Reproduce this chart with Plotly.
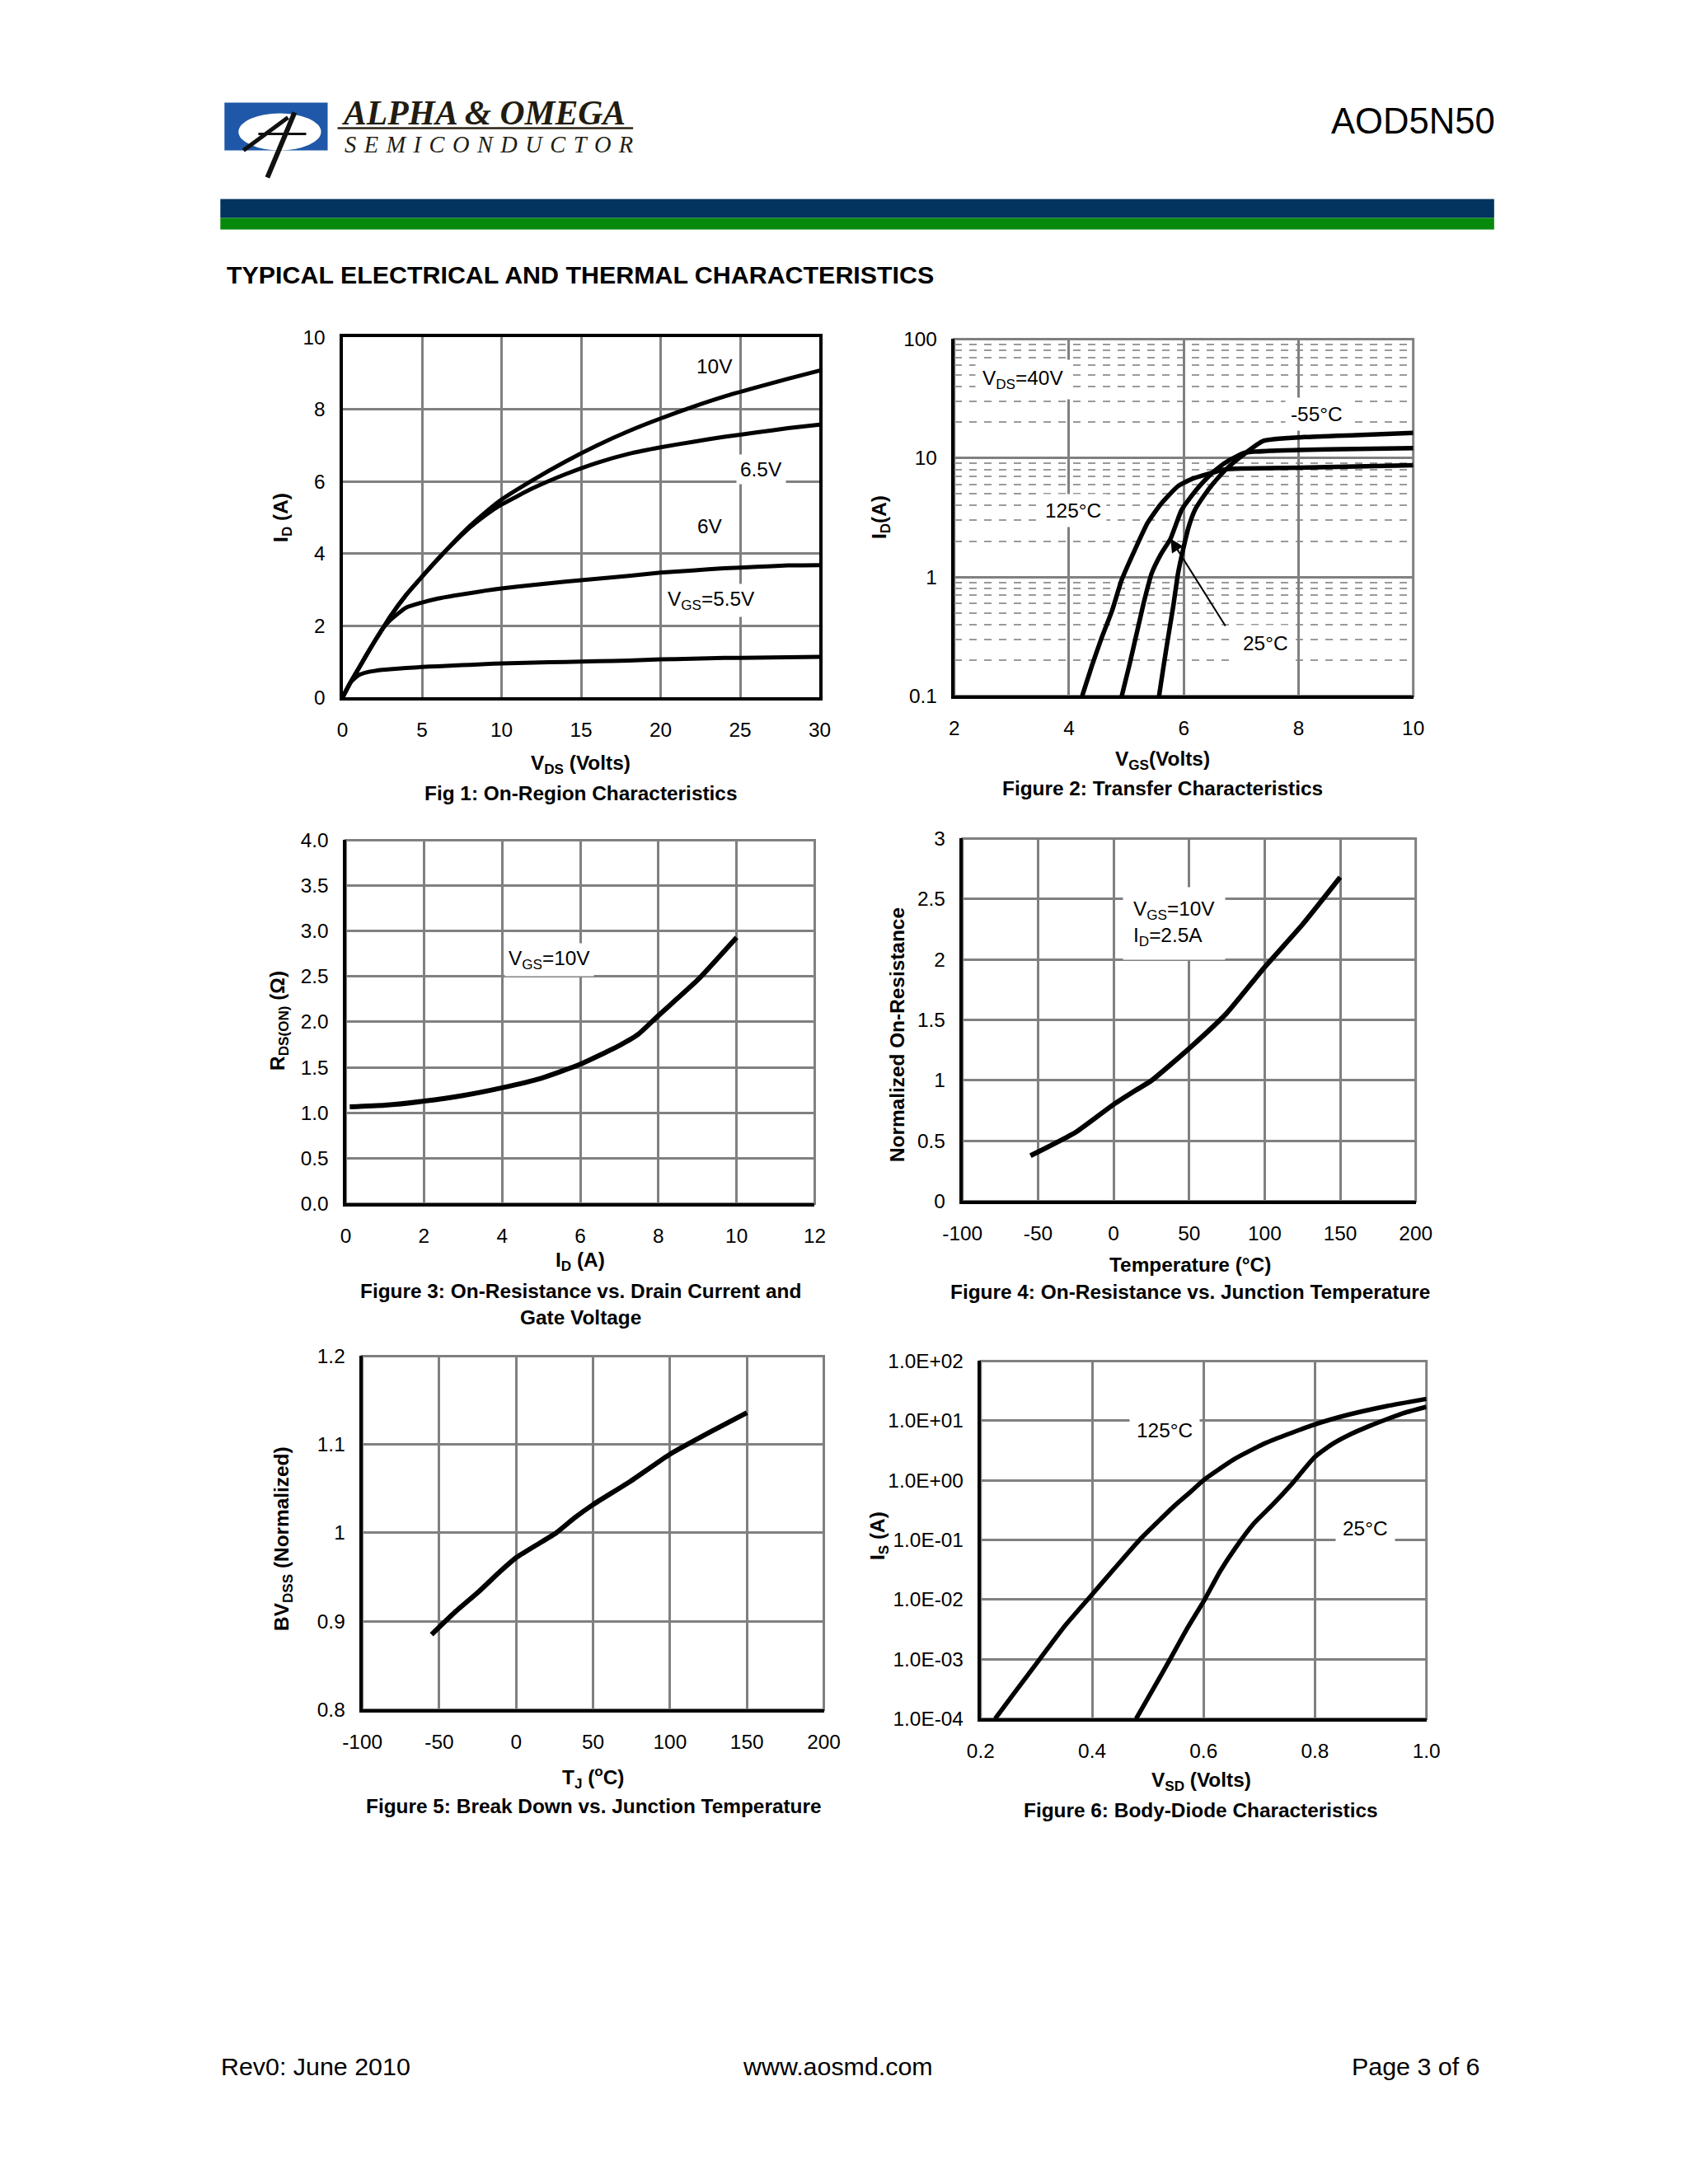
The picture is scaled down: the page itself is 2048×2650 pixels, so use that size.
import numpy as np
import plotly.graph_objects as go

W, H = 2048, 2650
FONT = "Liberation Sans, Arial, sans-serif"
GRID = "#808080"

# ---------------- data ----------------
# Fig 1: On-region characteristics
vds = [0, 0.5, 1, 1.5, 2, 2.5, 3, 4, 5, 6, 7, 8, 9, 10, 12, 14, 16, 18, 20, 22, 24, 26, 28, 30]
id_10v = [0, 0.42, 0.8, 1.18, 1.55, 1.9, 2.25, 2.85, 3.36, 3.85, 4.32, 4.76, 5.15, 5.5, 6.05, 6.55, 7.0, 7.4, 7.75, 8.07, 8.36, 8.61, 8.85, 9.08]
id_6v5 = [0, 0.42, 0.8, 1.18, 1.55, 1.9, 2.25, 2.85, 3.36, 3.85, 4.3, 4.72, 5.07, 5.36, 5.82, 6.2, 6.52, 6.77, 6.95, 7.1, 7.24, 7.36, 7.48, 7.58]
id_6v = [0, 0.42, 0.8, 1.18, 1.55, 1.9, 2.15, 2.5, 2.64, 2.75, 2.83, 2.9, 2.97, 3.03, 3.13, 3.22, 3.3, 3.38, 3.47, 3.53, 3.59, 3.63, 3.67, 3.68]
id_5v5 = [0, 0.42, 0.62, 0.7, 0.74, 0.77, 0.79, 0.82, 0.85, 0.87, 0.89, 0.91, 0.93, 0.95, 0.97, 0.99, 1.01, 1.03, 1.06, 1.08, 1.1, 1.11, 1.12, 1.13]

# Fig 2: Transfer characteristics
vgs_125 = [4.23, 4.4, 4.56, 4.75, 4.92, 5.15, 5.37, 5.6, 5.9, 6.15, 6.42, 6.71, 7.0, 8.0, 9.0, 10.0]
id_125 = [0.1, 0.18, 0.3, 0.52, 0.95, 1.7, 2.85, 4.1, 5.8, 6.7, 7.35, 8.0, 8.15, 8.3, 8.5, 8.7]
vgs_25 = [4.92, 5.05, 5.18, 5.3, 5.44, 5.6, 5.77, 5.96, 6.12, 6.29, 6.55, 6.81, 7.07, 7.5, 8.0, 9.0, 10.0]
id_25 = [0.1, 0.18, 0.336, 0.6, 1.07, 1.55, 2.1, 3.64, 4.7, 5.93, 7.9, 9.7, 11.1, 11.5, 11.7, 11.9, 12.1]
vgs_m55 = [5.57, 5.65, 5.73, 5.82, 5.9, 6.0, 6.09, 6.2, 6.35, 6.5, 6.74, 7.0, 7.39, 8.1, 9.0, 10.0]
id_m55 = [0.1, 0.18, 0.316, 0.58, 1.07, 1.8, 2.68, 3.7, 4.8, 6.0, 8.05, 10.3, 13.97, 15.0, 15.6, 16.3]

# Fig 3: On-resistance vs drain current
id3 = [0.1, 1, 2, 3, 4, 5, 6, 7, 7.5, 8, 9, 10]
rds3 = [1.065, 1.083, 1.128, 1.19, 1.275, 1.38, 1.534, 1.74, 1.87, 2.07, 2.46, 2.93]

# Fig 4: Normalized on-resistance vs temperature
t4 = [-55, -25, 0, 15, 25, 50, 75, 100, 125, 150]
rn4 = [0.376, 0.571, 0.80, 0.92, 0.997, 1.263, 1.557, 1.936, 2.288, 2.68]

# Fig 5: Breakdown vs junction temperature
t5 = [-55, -40, -24, -10, 0, 12, 26, 38, 50, 74, 100, 126, 150]
bv5 = [0.885, 0.91, 0.934, 0.957, 0.972, 0.985, 1.0, 1.017, 1.032, 1.058, 1.089, 1.114, 1.136]

# Fig 6: Body-diode characteristics
vsd_125 = [0.226, 0.261, 0.306, 0.35, 0.397, 0.44, 0.486, 0.52, 0.547, 0.575, 0.602, 0.656, 0.711, 0.792, 0.86, 0.928, 1.0]
is_125 = [1e-4, 2.75e-4, 1e-3, 3.5e-3, 0.0113, 0.033, 0.102, 0.21, 0.367, 0.62, 1.04, 2.29, 4.2, 8.2, 12.6, 17.5, 23.2]
vsd_25 = [0.479, 0.51, 0.54, 0.57, 0.602, 0.63, 0.656, 0.69, 0.724, 0.758, 0.799, 0.83, 0.86, 0.9, 0.928, 0.96, 1.0]
is_25 = [1e-4, 3.2e-4, 1e-3, 3.2e-3, 0.01, 0.03, 0.0708, 0.187, 0.39, 0.86, 2.43, 4.0, 5.7, 8.3, 10.5, 13.5, 17.1]

temp_ticks = [-100, -50, 0, 50, 100, 150, 200]
temp_ticktext = ["-100", "-50", "0", "50", "100", "150", "200"]
fig6_ticks = [1e-4, 1e-3, 1e-2, 1e-1, 1e0, 1e1, 1e2]
fig6_ticktext = ["1.0E-04", "1.0E-03", "1.0E-02", "1.0E-01", "1.0E+00", "1.0E+01", "1.0E+02"]
fig2_ticks = [0.1, 1, 10, 100]
fig2_ticktext = ["0.1", "1", "10", "100"]
fig2_minor = [m * d for d in [0.1, 1, 10] for m in range(2, 10)]

# page-pixel placement helpers (calibrated to the rendered page)
SX, OX = 1.0236, -27.7
SY, OY = 1.0103, -13.7
FS = 1.015  # font scale


def pxx(x):
    return (x * SX + OX) / W


def pyy(y):
    return 1 - (y * SY + OY) / H


def fs(s):
    return round(s * FS, 1)


fig = go.Figure()


def line(x, y, n, width=4.5):
    xa = "x" if n == 1 else f"x{n}"
    ya = "y" if n == 1 else f"y{n}"
    fig.add_trace(go.Scatter(x=x, y=y, mode="lines", xaxis=xa, yaxis=ya,
                             line=dict(color="black", width=width, shape="spline", smoothing=0.5),
                             showlegend=False, hoverinfo="skip"))


line(vds, id_10v, 1, 5)
line(vds, id_6v5, 1, 5)
line(vds, id_6v, 1, 5)
line(vds, id_5v5, 1, 5)
line(vgs_125, id_125, 2, 5.5)
line(vgs_25, id_25, 2, 5.5)
line(vgs_m55, id_m55, 2, 5.5)
line(id3, rds3, 3, 6)
line(t4, rn4, 4, 6)
line(t5, bv5, 5, 6)
line(vsd_125, is_125, 6, 5.5)
line(vsd_25, is_25, 6, 5.5)

# plot areas in page pixels: left, right, top, bottom
areas = {
    1: (418, 996, 410, 847),
    2: (1159, 1715, 412, 845),
    3: (422, 990, 1020, 1461),
    4: (1169, 1718, 1018, 1458),
    5: (442, 1001, 1646, 2075),
    6: (1191, 1731, 1652, 2086),
}

base = dict(showline=True, linecolor="black", linewidth=4, showgrid=True, gridcolor=GRID,
            gridwidth=3, zeroline=False, ticks="", tickfont=dict(family=FONT, size=fs(24), color="black"))

layout_axes = {}
for n, (l, r, t, b) in areas.items():
    xk = "xaxis" if n == 1 else f"xaxis{n}"
    yk = "yaxis" if n == 1 else f"yaxis{n}"
    xa = "x" if n == 1 else f"x{n}"
    ya = "y" if n == 1 else f"y{n}"
    layout_axes[xk] = dict(base, domain=[pxx(l), pxx(r)], anchor=ya, ticklabelstandoff=14,
                           mirror=(n == 1))
    layout_axes[yk] = dict(base, domain=[pyy(b), pyy(t)], anchor=xa, ticklabelstandoff=12,
                           mirror=(n == 1))

layout_axes["xaxis"].update(range=[0, 30], dtick=5, tick0=0)
layout_axes["yaxis"].update(range=[0, 10], dtick=2, tick0=0)
layout_axes["xaxis2"].update(range=[2, 10], dtick=2, tick0=0)
layout_axes["yaxis2"].update(type="log", range=[-1, 2], tickmode="array", tickvals=fig2_ticks,
                             ticktext=fig2_ticktext,
                             minor=dict(tickmode="array", tickvals=fig2_minor, showgrid=True,
                                        gridcolor="#9a9a9a", griddash="dash", gridwidth=2, ticks=""))
layout_axes["xaxis3"].update(range=[0, 12], dtick=2, tick0=0)
layout_axes["yaxis3"].update(range=[0, 4], dtick=0.5, tick0=0, tickformat=".1f")
layout_axes["xaxis4"].update(range=[-100, 200], tickmode="array", tickvals=temp_ticks,
                             ticktext=temp_ticktext)
layout_axes["yaxis4"].update(range=[0, 3], dtick=0.5, tick0=0)
layout_axes["xaxis5"].update(range=[-100, 200], tickmode="array", tickvals=temp_ticks,
                             ticktext=temp_ticktext)
layout_axes["yaxis5"].update(range=[0.8, 1.2], dtick=0.1, tick0=0.8)
layout_axes["xaxis6"].update(range=[0.2, 1.0], dtick=0.2, tick0=0.2, tickformat=".1f")
layout_axes["yaxis6"].update(type="log", range=[-4, 2], tickmode="array", tickvals=fig6_ticks,
                             ticktext=fig6_ticktext)

shapes = []
# gray top/right frame for figs 2-6
for n in range(2, 7):
    shapes.append(dict(type="rect", xref=f"x{n} domain", yref=f"y{n} domain", x0=0, x1=1, y0=0, y1=1,
                       line=dict(color=GRID, width=3), layer="below"))


def prect(x0, y0, x1, y1, color):
    shapes.append(dict(type="rect", xref="paper", yref="paper", x0=pxx(x0), x1=pxx(x1),
                       y0=pyy(y1), y1=pyy(y0), fillcolor=color, line=dict(width=0), layer="above"))


def pline(x0, y0, x1, y1, color, width):
    shapes.append(dict(type="line", xref="paper", yref="paper", x0=pxx(x0), x1=pxx(x1),
                       y0=pyy(y0), y1=pyy(y1), line=dict(color=color, width=width), layer="above"))


# header bars
prect(270, 242, 1813, 265, "#03335f")
prect(270, 265, 1813, 279, "#078a0c")
# logo
prect(275, 125, 400, 183, "#1f58a8")
shapes.append(dict(type="circle", xref="paper", yref="paper", x0=pxx(292), x1=pxx(392),
                   y0=pyy(183), y1=pyy(138), fillcolor="white", line=dict(width=0), layer="above"))
pline(360, 137, 327, 216, "#111111", 6)
pline(298, 183, 352, 143, "#111111", 5)
pline(316, 163, 374, 163, "#111111", 3)
pline(412, 156, 770, 156, "#2a2215", 2.5)

ann = []


def ptext(x, y, text, size=24, bold=False, xanchor="center", angle=0, family=FONT, color="black",
          italic=False, yanchor="middle"):
    t = f"<b>{text}</b>" if bold else text
    if italic:
        t = f"<i>{t}</i>"
    ann.append(dict(x=pxx(x), y=pyy(y), xref="paper", yref="paper", text=t, showarrow=False,
                    xanchor=xanchor, yanchor=yanchor, textangle=angle,
                    font=dict(family=family, size=fs(size), color=color)))


SERIF = "Liberation Serif, Times New Roman, serif"
ptext(414, 138, "ALPHA &amp; OMEGA", size=41, bold=True, italic=True, xanchor="left", family=SERIF,
      color="#221c10")
ptext(418, 176, "\u2004".join("SEMICONDUCTOR"), size=28, italic=True, xanchor="left", family=SERIF,
      color="#221c10")
ptext(1816, 148, "AOD5N50", size=43, xanchor="right")
ptext(276, 334, "TYPICAL ELECTRICAL AND THERMAL CHARACTERISTICS", size=30, bold=True, xanchor="left")

# footer
ptext(269, 2508, "Rev0: June 2010", size=30, xanchor="left")
ptext(1018, 2508, "www.aosmd.com", size=30)
ptext(1797, 2508, "Page 3 of 6", size=30, xanchor="right")

# axis titles and captions
ptext(345, 628, "I<sub>D</sub> (A)", bold=True, angle=-90)
ptext(706, 928, "V<sub>DS</sub> (Volts)", bold=True)
ptext(706, 963, "Fig 1: On-Region Characteristics", bold=True)

ptext(1070, 628, "I<sub>D</sub>(A)", bold=True, angle=-90)
ptext(1411, 923, "V<sub>GS</sub>(Volts)", bold=True)
ptext(1411, 957, "Figure 2: Transfer Characteristics", bold=True)

ptext(341, 1239, "R<sub>DS(ON)</sub> (Ω)", bold=True, angle=-90)
ptext(706, 1531, "I<sub>D</sub> (A)", bold=True)
ptext(706, 1567, "Figure 3: On-Resistance vs. Drain Current and", bold=True)
ptext(706, 1599, "Gate Voltage", bold=True)

ptext(1090, 1256, "Normalized On-Resistance", bold=True, angle=-90)
ptext(1445, 1535, "Temperature (°C)", bold=True)
ptext(1445, 1568, "Figure 4: On-Resistance vs. Junction Temperature", bold=True)

ptext(346, 1867, "BV<sub>DSS</sub> (Normalized)", bold=True, angle=-90)
ptext(722, 2158, "T<sub>J</sub> (<sup>o</sup>C)", bold=True)
ptext(722, 2192, "Figure 5: Break Down vs. Junction Temperature", bold=True)

ptext(1068, 1864, "I<sub>S</sub> (A)", bold=True, angle=-90)
ptext(1458, 2162, "V<sub>SD</sub> (Volts)", bold=True)
ptext(1458, 2197, "Figure 6: Body-Diode Characteristics", bold=True)


def dlabel(n, x, y, text, xanchor="center", align="center", pad=4):
    xa = "x" if n == 1 else f"x{n}"
    ya = "y" if n == 1 else f"y{n}"
    ann.append(dict(x=x, y=y, xref=xa, yref=ya, text=text, showarrow=False, xanchor=xanchor,
                    align=align, bgcolor="white", borderpad=pad,
                    font=dict(family=FONT, size=fs(24), color="black")))


dlabel(1, 23.4, 9.2, "10V")
dlabel(1, 26.3, 6.33, "6.5V")
dlabel(1, 23.1, 4.76, "6V")
dlabel(1, 23.2, 2.7, "V<sub>GS</sub>=5.5V")

dlabel(2, 3.19, np.log10(46), "V<sub>DS</sub>=40V", pad=8)
dlabel(2, 8.31, np.log10(23.5), "-55°C", pad=6)
dlabel(2, 4.07, np.log10(3.64), "125°C", pad=6)
dlabel(2, 7.43, np.log10(0.279), "25°C", pad=8)
ann.append(dict(x=5.77, y=np.log10(2.1), ax=6.74, ay=np.log10(0.379), xref="x2", yref="y2",
                axref="x2", ayref="y2", text="", showarrow=True, arrowhead=2, arrowsize=1.6,
                arrowwidth=2, arrowcolor="black", standoff=0, startstandoff=0))

dlabel(3, 5.2, 2.68, "V<sub>GS</sub>=10V")
dlabel(4, 6, 2.3, "V<sub>GS</sub>=10V<br>I<sub>D</sub>=2.5A", xanchor="left", align="left", pad=12)
dlabel(6, 0.53, np.log10(6.86), "125°C", pad=8)
dlabel(6, 0.891, np.log10(0.156), "25°C", pad=8)

fig.update_layout(width=W, height=H, margin=dict(l=0, r=0, t=0, b=0), paper_bgcolor="white",
                  plot_bgcolor="white", showlegend=False, shapes=shapes, annotations=ann,
                  font=dict(family=FONT, color="black"), **layout_axes)

fig.write_html("out.html", config={"displayModeBar": False},
               post_script="document.body.style.margin='0';document.body.style.padding='0';")
